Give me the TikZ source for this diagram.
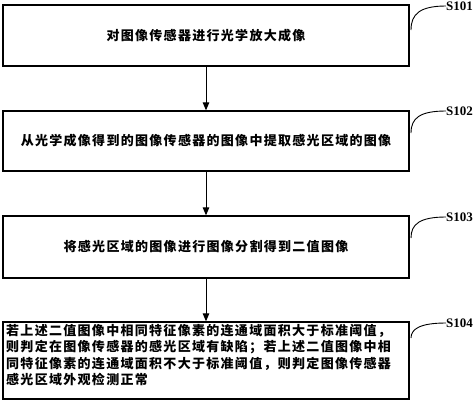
\documentclass[tikz,border=0pt]{standalone}
\usepackage{fontspec}
\setmainfont{Liberation Serif}
\newfontfamily\cjk[LetterSpace=10]{Noto Sans CJK SC}
\usetikzlibrary{arrows.meta}
\tikzset{
  stepbox/.style={draw, line width=1.3pt, minimum width=406pt, inner sep=0pt, font=\cjk\fontsize{13}{16}\selectfont\bfseries},
  flow/.style={line width=1pt, -{Triangle[length=8pt,width=6.5pt]}},
  lead/.style={line width=0.9pt},
  slabel/.style={anchor=west, inner sep=0pt, font=\fontsize{13}{15}\selectfont\bfseries}
}
\begin{document}
\begin{tikzpicture}[x=1pt,y=-1pt]
\useasboundingbox (0,0) rectangle (474,402);
\node[stepbox, minimum height=61pt] (b1) at (206,35.5) {对图像传感器进行光学放大成像};
\node[stepbox, minimum height=60pt] (b2) at (206,141) {从光学成像得到的图像传感器的图像中提取感光区域的图像};
\node[stepbox, minimum height=62pt] (b3) at (206,247) {将感光区域的图像进行图像分割得到二值图像};
\node[stepbox, minimum height=77pt] (b4) at (206,360.5) {};
\node[anchor=west, align=left, inner sep=0pt, font=\cjk\fontsize{13}{16.3}\selectfont\bfseries] (t4) at (6,355)
 {若上述二值图像中相同特征像素的连通域面积大于标准阈值，\\
  则判定在图像传感器的感光区域有缺陷；若上述二值图像中相\\
  同特征像素的连通域面积不大于标准阈值，则判定图像传感器\\
  感光区域外观检测正常};
\draw[flow] (b1.south) -- (b2.north);
\draw[flow] (b2.south) -- (b3.north);
\draw[flow] (b3.south) -- (b4.north);
\node[slabel] (s1) at (446,6) {S101};
\node[slabel] (s2) at (446,111) {S102};
\node[slabel] (s3) at (446,217) {S103};
\node[slabel] (s4) at (446,323) {S104};
\coordinate (c1) at (411,30);
\coordinate (c2) at (411,133);
\coordinate (c3) at (411,238);
\coordinate (c4) at (411,338);
\draw[lead] (c1) .. controls (411,14) and (420,6) .. (s1.west);
\draw[lead] (c2) .. controls (411,118) and (420,111) .. (s2.west);
\draw[lead] (c3) .. controls (411,224) and (420,217) .. (s3.west);
\draw[lead] (c4) .. controls (411,329) and (420,323) .. (s4.west);
\end{tikzpicture}
\end{document}
